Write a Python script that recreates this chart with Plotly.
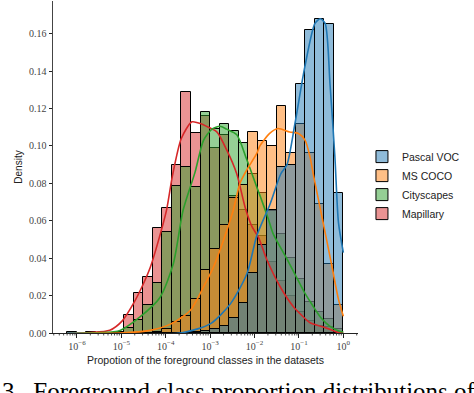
import numpy as np
import plotly.graph_objects as go

# ---------------- data ----------------
datasets = ["Pascal VOC", "MS COCO", "Cityscapes", "Mapillary"]
colors = {"Pascal VOC": (31, 119, 180), "MS COCO": (255, 127, 14),
          "Cityscapes": (44, 160, 44), "Mapillary": (214, 39, 40)}

# shared histogram bins in log10(proportion)
bin_lo = -6.22
bin_hi = 0.0
n_bins = 29

pascal_voc = [0, 0, 0, 0, 0, 0, 0, 0, 0, 0, 0, 0, 0, 0.0005, 0.001, 0.002, 0.004,
              0.008, 0.016, 0.032, 0.047, 0.066, 0.089, 0.090, 0.133, 0.162, 0.168,
              0.165, 0.0746]
ms_coco = [0, 0, 0, 0, 0, 0, 0, 0, 0, 0.0005, 0.002, 0.006, 0.009, 0.018, 0.0335,
           0.045, 0.058, 0.072, 0.079, 0.1075, 0.1027, 0.0999, 0.1213, 0.096, 0.1116,
           0.096, 0.069, 0.037, 0.015]
cityscapes = [0, 0, 0, 0, 0, 0.0008, 0.0025, 0.0068, 0.0148, 0.027, 0.054, 0.0786,
              0.089, 0.078, 0.118, 0.109, 0.1115, 0.108, 0.1016, 0.085, 0.0746, 0.065,
              0.053, 0.040, 0.029, 0.0166, 0.011, 0.0077, 0.002]
mapillary = [0.0008, 0, 0.0008, 0, 0, 0, 0.0098, 0.0214, 0.030, 0.056, 0.067, 0.090,
             0.129, 0.107, 0.116, 0.0987, 0.106, 0.073, 0.066, 0.058, 0.052, 0.038,
             0.028, 0.020, 0.011, 0.0065, 0.004, 0.003, 0.0008]
hist = {"Pascal VOC": pascal_voc, "MS COCO": ms_coco,
        "Cityscapes": cityscapes, "Mapillary": mapillary}

# KDE curves: (log10 x, density)
kde_voc_x = [-6.22, -3.67, -2.99, -2.54, -2.17, -1.95, -1.65, -1.41, -1.27, -1.09,
             -0.87, -0.64, -0.52, -0.41, -0.30, -0.19, -0.11, 0.0]
kde_voc_y = [0.0, 0.0, 0.005, 0.0157, 0.0318, 0.052, 0.069, 0.085, 0.090, 0.112,
             0.142, 0.1655, 0.168, 0.1655, 0.133, 0.094, 0.059, 0.043]
kde_coco_x = [-6.22, -5.03, -4.35, -3.87, -3.45, -3.15, -2.93, -2.70, -2.48, -2.33,
              -2.18, -1.95, -1.88, -1.66, -1.47, -1.21, -1.01, -0.86, -0.75, -0.67,
              -0.49, -0.26, -0.11, 0.0]
kde_coco_y = [0.0, 0.0, 0.0014, 0.005, 0.012, 0.0246, 0.035, 0.0496, 0.0656, 0.080,
              0.087, 0.096, 0.100, 0.1067, 0.1093, 0.1075, 0.1067, 0.103, 0.094, 0.084,
              0.063, 0.036, 0.018, 0.009]
kde_city_x = [-6.22, -5.48, -5.03, -4.58, -4.13, -3.83, -3.61, -3.34, -3.15, -2.96,
              -2.78, -2.63, -2.40, -2.18, -1.95, -1.87, -1.69, -1.58, -1.28, -0.98,
              -0.86, -0.67, -0.49, -0.30, -0.07, 0.0]
kde_city_y = [0.0, 0.0002, 0.0014, 0.0086, 0.019, 0.037, 0.0656, 0.086, 0.103, 0.109,
              0.1105, 0.109, 0.106, 0.093, 0.078, 0.073, 0.061, 0.053, 0.040, 0.0264,
              0.021, 0.0139, 0.0077, 0.0035, 0.0008, 0.0005]
kde_mapi_x = [-6.22, -5.70, -5.26, -4.98, -4.73, -4.53, -4.35, -4.17, -3.98, -3.85,
              -3.65, -3.41, -3.22, -3.04, -2.85, -2.63, -2.40, -2.21, -2.06, -1.91,
              -1.72, -1.42, -1.12, -0.94, -0.75, -0.45, -0.12, 0.0]
kde_mapi_y = [0.0, 0.0003, 0.0015, 0.0065, 0.0157, 0.025, 0.035, 0.049, 0.066, 0.084,
              0.104, 0.1129, 0.112, 0.110, 0.1075, 0.098, 0.085, 0.067, 0.057, 0.051,
              0.039, 0.0246, 0.0139, 0.0095, 0.0055, 0.0032, 0.0003, 0.0]
kde = {"Pascal VOC": (kde_voc_x, kde_voc_y), "MS COCO": (kde_coco_x, kde_coco_y),
       "Cityscapes": (kde_city_x, kde_city_y), "Mapillary": (kde_mapi_x, kde_mapi_y)}

x_tick_exponents = [-6, -5, -4, -3, -2, -1, 0]
y_ticks = [0.00, 0.02, 0.04, 0.06, 0.08, 0.10, 0.12, 0.14, 0.16]

x_title = "Propotion of the foreground classes in the datasets"
y_title = "Density"
caption = "3.  Foreground class proportion distributions of"

# ---------------- figure ----------------
edges = np.linspace(bin_lo, bin_hi, n_bins + 1)
centers = (edges[:-1] + edges[1:]) / 2
width = edges[1] - edges[0]

fig = go.Figure()

# seaborn layers the hue levels in reverse order: last level at the bottom
for rank, name in reversed(list(enumerate(datasets))):
    r, g, b = colors[name]
    fig.add_trace(go.Bar(
        x=centers, y=hist[name], width=width, name=name,
        marker=dict(color=f"rgba({r},{g},{b},0.5)",
                    line=dict(color="black", width=1)),
        legendrank=rank + 1, hoverinfo="skip"))

for name in reversed(datasets):
    r, g, b = colors[name]
    xs, ys = kde[name]
    fig.add_trace(go.Scatter(
        x=xs, y=ys, mode="lines", showlegend=False,
        line=dict(color=f"rgb({r},{g},{b})", width=1.6, shape="spline", smoothing=0.7),
        hoverinfo="skip"))

x_range = [-6.54, 0.33]
y_range = [0, 0.1775]

# minor log ticks
shapes = []
for n in range(-7, 1):
    for k in range(2, 10):
        v = n + np.log10(k)
        if x_range[0] < v < x_range[1]:
            shapes.append(dict(type="line", xref="x", yref="paper", x0=v, x1=v,
                               y0=0, y1=-0.0075, line=dict(color="#222", width=0.8)))

fig.update_layout(
    width=474, height=393,
    margin=dict(l=53, r=116, t=1, b=60),
    plot_bgcolor="white", paper_bgcolor="white",
    barmode="overlay", bargap=0,
    shapes=shapes,
    font=dict(family="Liberation Sans, Arial, sans-serif", color="#222"),
    legend=dict(x=1.013, y=0.575, xanchor="left", yanchor="top",
                font=dict(size=10.5, family="Liberation Sans, Arial, sans-serif", color="#222"),
                bgcolor="rgba(0,0,0,0)", tracegroupgap=0),
    showlegend=True,
)

fig.update_xaxes(
    range=x_range, showgrid=False, zeroline=False, automargin=False,
    showline=True, linecolor="#222", linewidth=1,
    ticks="outside", ticklen=3.5, tickwidth=1, tickcolor="#222",
    tickvals=x_tick_exponents,
    ticktext=[f"10<sup>\u2212{-e}</sup>" if e < 0 else f"10<sup>{e}</sup>" for e in x_tick_exponents],
    tickfont=dict(family="Liberation Serif, DejaVu Serif, serif", size=10, color="#444"),
    title=dict(text=x_title, font=dict(size=10.5, color="#222"), standoff=6),
)
fig.update_yaxes(
    range=y_range, showgrid=False, zeroline=False, automargin=False,
    showline=True, linecolor="#444", linewidth=1,
    ticks="outside", ticklen=3.5, tickwidth=1, tickcolor="#222",
    tickvals=y_ticks, ticktext=[f"{v:.2f}" for v in y_ticks],
    tickfont=dict(family="Liberation Serif, DejaVu Serif, serif", size=10, color="#444"),
    title=dict(text=y_title, font=dict(size=10, color="#222"), standoff=4),
)

fig.add_annotation(
    text=caption, xref="paper", yref="paper", x=-0.174, y=-0.129,
    xanchor="left", yanchor="top", showarrow=False,
    font=dict(family="Liberation Serif, Times New Roman, serif", size=25, color="black"))

fig.write_html("out.html", config={"displayModeBar": False},
               post_script="document.body.style.margin='0px';")
